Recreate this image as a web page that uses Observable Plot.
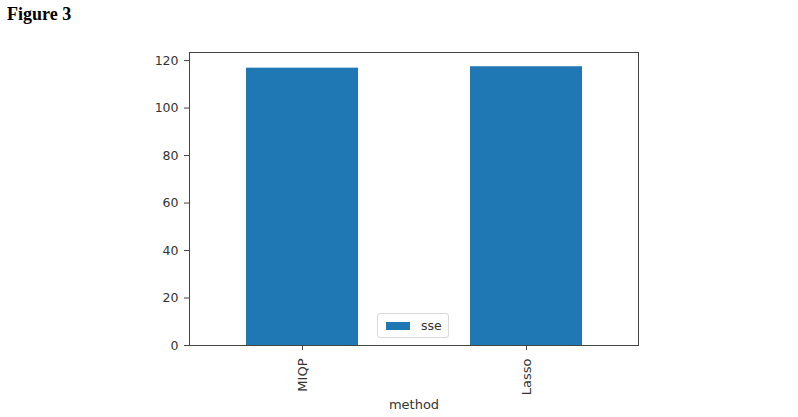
<!DOCTYPE html>
<html>
<head>
<meta charset="utf-8">
<script src="https://cdn.jsdelivr.net/npm/d3@7"></script>
<script src="https://cdn.jsdelivr.net/npm/@observablehq/plot@0.6"></script>
<style>
  html, body { margin: 0; padding: 0; background: #fff; }
  #wrap { position: relative; width: 798px; height: 417px; overflow: hidden; }
  #title { position: absolute; left: 7px; top: 4px; font: bold 18px "Liberation Serif", "Times New Roman", serif; color: #000; }
  #legend { position: absolute; left: 377px; top: 313px; width: 72px; height: 25px; box-sizing: border-box;
            border: 1px solid #d9d9d9; border-radius: 3px; background: rgba(255,255,255,0.8);
            font: 12.5px "DejaVu Sans", sans-serif; color: #333; }
  #legend .sw { position: absolute; left: 8px; top: 8px; width: 24px; height: 8px; background: #1f77b4; }
  #legend .lb { position: absolute; left: 43px; top: 4px; }
</style>
</head>
<body>
<div id="wrap">
  <div id="chart"></div>
  <div id="title">Figure 3</div>
  <div id="legend"><div class="sw"></div><div class="lb">sse</div></div>
</div>
<script>
const methods = ["MIQP", "Lasso"];
const sse = [116.8, 117.4];
const yTicks = [0, 20, 40, 60, 80, 100, 120];
const seriesName = "sse";

const data = methods.map((m, i) => ({method: m, sse: sse[i]}));

const chart = Plot.plot({
  width: 798,
  height: 417,
  marginLeft: 189,
  marginRight: 160,
  marginTop: 52,
  marginBottom: 72,
  style: {fontFamily: "DejaVu Sans, sans-serif", fontSize: "12.5px", color: "#333", background: "#fff"},
  x: {domain: methods, paddingInner: 0.5, paddingOuter: 0.25},
  y: {domain: [0, 123.4]},
  marks: [
    Plot.barY(data, {x: "method", y: "sse", fill: "#1f77b4"}),
    Plot.frame({stroke: "#444", strokeWidth: 1}),
    Plot.axisY({ticks: yTicks, tickSize: 5, tickPadding: 6, label: null, stroke: "#444", fill: "#333"}),
    Plot.axisX({tickRotate: -90, tickSize: 5, tickPadding: 8, label: "method", labelAnchor: "center",
                labelArrow: "none", labelOffset: 63, stroke: "#444", fill: "#333", fontSize: 13})
  ]
});
document.getElementById("chart").appendChild(chart);
</script>
</body>
</html>
